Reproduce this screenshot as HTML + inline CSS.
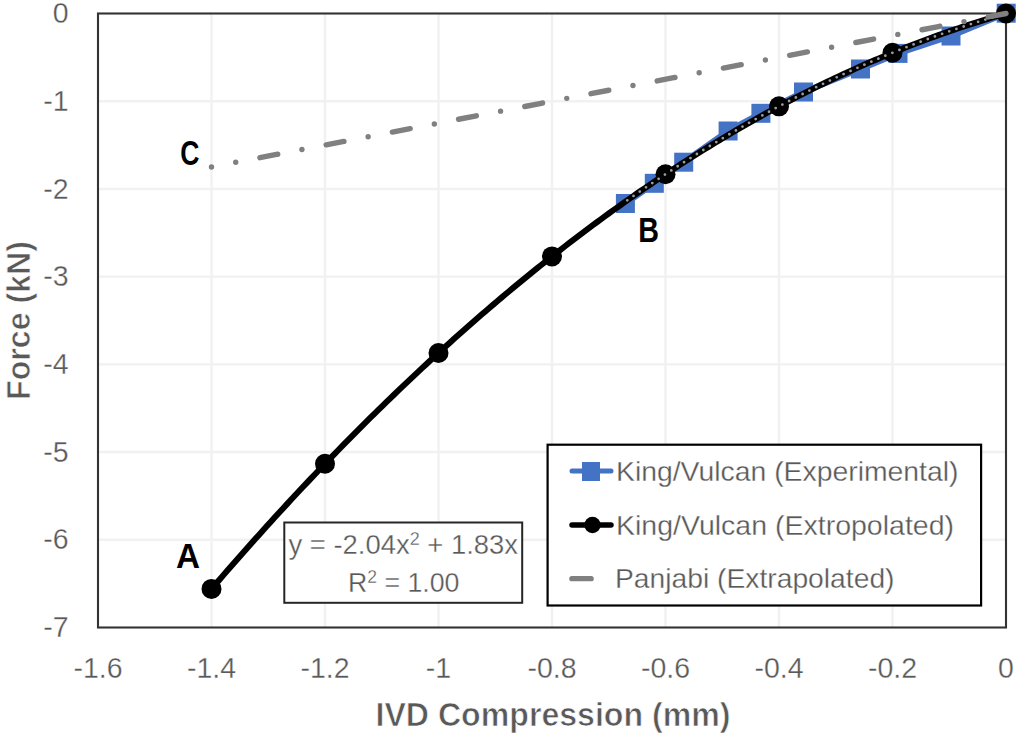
<!DOCTYPE html><html><head><meta charset="utf-8"><style>html,body{margin:0;padding:0;background:#fff;overflow:hidden}svg{display:block}</style></head><body>
<svg width="1020" height="736" viewBox="0 0 1020 736">
<rect x="0" y="0" width="1020" height="736" fill="#fff"/>
<path d="M211.50 13.50V627.50 M325.00 13.50V627.50 M438.50 13.50V627.50 M552.00 13.50V627.50 M665.50 13.50V627.50 M779.00 13.50V627.50 M892.50 13.50V627.50 M98.00 101.21H1006.00 M98.00 188.93H1006.00 M98.00 276.64H1006.00 M98.00 364.36H1006.00 M98.00 452.07H1006.00 M98.00 539.79H1006.00" stroke="#f1f1f1" stroke-width="2.4" fill="none"/>
<rect x="98.0" y="13.5" width="908.0" height="614.0" fill="none" stroke="#333" stroke-width="2.1"/>
<g font-family='"Liberation Sans", sans-serif' font-size="30" fill="#595959" stroke="#fff" stroke-width="0.3"><text transform="translate(68.5 23.20) scale(0.95 1)" text-anchor="end">0</text><text transform="translate(68.5 110.91) scale(0.95 1)" text-anchor="end">-1</text><text transform="translate(68.5 198.63) scale(0.95 1)" text-anchor="end">-2</text><text transform="translate(68.5 286.34) scale(0.95 1)" text-anchor="end">-3</text><text transform="translate(68.5 374.06) scale(0.95 1)" text-anchor="end">-4</text><text transform="translate(68.5 461.77) scale(0.95 1)" text-anchor="end">-5</text><text transform="translate(68.5 549.49) scale(0.95 1)" text-anchor="end">-6</text><text transform="translate(68.5 637.20) scale(0.95 1)" text-anchor="end">-7</text></g>
<g font-family='"Liberation Sans", sans-serif' font-size="30" fill="#595959" stroke="#fff" stroke-width="0.3"><text transform="translate(98.00 678) scale(0.95 1)" text-anchor="middle">-1.6</text><text transform="translate(211.50 678) scale(0.95 1)" text-anchor="middle">-1.4</text><text transform="translate(325.00 678) scale(0.95 1)" text-anchor="middle">-1.2</text><text transform="translate(438.50 678) scale(0.95 1)" text-anchor="middle">-1</text><text transform="translate(552.00 678) scale(0.95 1)" text-anchor="middle">-0.8</text><text transform="translate(665.50 678) scale(0.95 1)" text-anchor="middle">-0.6</text><text transform="translate(779.00 678) scale(0.95 1)" text-anchor="middle">-0.4</text><text transform="translate(892.50 678) scale(0.95 1)" text-anchor="middle">-0.2</text><text transform="translate(1006.00 678) scale(0.95 1)" text-anchor="middle">0</text></g>
<text x="375.5" y="725.5" font-family='"Liberation Sans", sans-serif' font-weight="bold" font-size="34" fill="#595959" stroke="#fff" stroke-width="0.7" textLength="355" lengthAdjust="spacingAndGlyphs">IVD Compression (mm)</text>
<text transform="translate(30.2 400) rotate(-90)" x="0" y="0" font-family='"Liberation Sans", sans-serif' font-weight="bold" font-size="34" fill="#595959" stroke="#fff" stroke-width="0.7" textLength="159" lengthAdjust="spacingAndGlyphs">Force (kN)</text>
<path d="M625.4 203.5 L654.3 183.3 L683.7 162.2 L728.1 131.0 L760.9 113.3 L803.5 92.0 L860.5 69.0 L898.0 53.4 L951.0 36.0 L1006.2 13.2" stroke="#4472c4" stroke-width="6" fill="none" stroke-linejoin="round"/>
<rect x="615.90" y="194.00" width="19" height="19" fill="#4472c4"/>
<rect x="644.80" y="173.80" width="19" height="19" fill="#4472c4"/>
<rect x="674.20" y="152.70" width="19" height="19" fill="#4472c4"/>
<rect x="718.60" y="121.50" width="19" height="19" fill="#4472c4"/>
<rect x="751.40" y="103.80" width="19" height="19" fill="#4472c4"/>
<rect x="794.00" y="82.50" width="19" height="19" fill="#4472c4"/>
<rect x="851.00" y="59.50" width="19" height="19" fill="#4472c4"/>
<rect x="888.50" y="43.90" width="19" height="19" fill="#4472c4"/>
<rect x="941.50" y="26.50" width="19" height="19" fill="#4472c4"/>
<rect x="996.70" y="3.70" width="19" height="19" fill="#4472c4"/>
<path d="M211.50 588.94 L215.47 584.32 L219.45 579.71 L223.42 575.13 L227.39 570.56 L231.36 566.01 L235.34 561.47 L239.31 556.95 L243.28 552.46 L247.25 547.97 L251.23 543.51 L255.20 539.06 L259.17 534.63 L263.14 530.22 L267.12 525.83 L271.09 521.45 L275.06 517.09 L279.03 512.75 L283.01 508.43 L286.98 504.12 L290.95 499.83 L294.92 495.56 L298.90 491.31 L302.87 487.07 L306.84 482.85 L310.81 478.65 L314.79 474.47 L318.76 470.30 L322.73 466.15 L326.70 462.02 L330.68 457.91 L334.65 453.81 L338.62 449.73 L342.59 445.67 L346.57 441.63 L350.54 437.60 L354.51 433.60 L358.48 429.60 L362.46 425.63 L366.43 421.68 L370.40 417.74 L374.37 413.82 L378.35 409.91 L382.32 406.03 L386.29 402.16 L390.26 398.31 L394.24 394.48 L398.21 390.66 L402.18 386.86 L406.15 383.08 L410.13 379.32 L414.10 375.58 L418.07 371.85 L422.04 368.14 L426.01 364.45 L429.99 360.77 L433.96 357.11 L437.93 353.47 L441.91 349.85 L445.88 346.25 L449.85 342.66 L453.82 339.09 L457.80 335.54 L461.77 332.00 L465.74 328.48 L469.71 324.98 L473.69 321.50 L477.66 318.04 L481.63 314.59 L485.60 311.16 L489.58 307.75 L493.55 304.35 L497.52 300.98 L501.49 297.62 L505.47 294.28 L509.44 290.95 L513.41 287.64 L517.38 284.36 L521.36 281.08 L525.33 277.83 L529.30 274.59 L533.27 271.37 L537.25 268.17 L541.22 264.99 L545.19 261.82 L549.16 258.67 L553.14 255.54 L557.11 252.43 L561.08 249.33 L565.05 246.25 L569.03 243.19 L573.00 240.15 L576.97 237.12 L580.94 234.11 L584.91 231.12 L588.89 228.15 L592.86 225.19 L596.83 222.25 L600.81 219.33 L604.78 216.43 L608.75 213.54 L612.72 210.67 L616.70 207.82 L620.67 204.99 L624.64 202.17 L628.61 199.37 L632.59 196.59 L636.56 193.83 L640.53 191.08 L644.50 188.36 L648.48 185.65 L652.45 182.95 L656.42 180.28 L660.39 177.62 L664.37 174.98 L668.34 172.36 L672.31 169.75 L676.28 167.16 L680.26 164.59 L684.23 162.04 L688.20 159.50 L692.17 156.99 L696.14 154.49 L700.12 152.00 L704.09 149.54 L708.06 147.09 L712.03 144.66 L716.01 142.25 L719.98 139.85 L723.95 137.48 L727.93 135.12 L731.90 132.77 L735.87 130.45 L739.84 128.14 L743.82 125.85 L747.79 123.58 L751.76 121.33 L755.73 119.09 L759.71 116.87 L763.68 114.67 L767.65 112.48 L771.62 110.31 L775.60 108.17 L779.57 106.03 L783.54 103.92 L787.51 101.82 L791.48 99.74 L795.46 97.68 L799.43 95.64 L803.40 93.61 L807.38 91.60 L811.35 89.61 L815.32 87.64 L819.29 85.68 L823.27 83.74 L827.24 81.82 L831.21 79.91 L835.18 78.03 L839.15 76.16 L843.13 74.31 L847.10 72.47 L851.07 70.66 L855.04 68.86 L859.02 67.08 L862.99 65.31 L866.96 63.57 L870.94 61.84 L874.91 60.13 L878.88 58.43 L882.85 56.76 L886.83 55.10 L890.80 53.46 L894.77 51.84 L898.74 50.23 L902.72 48.64 L906.69 47.07 L910.66 45.52 L914.63 43.98 L918.61 42.46 L922.58 40.96 L926.55 39.48 L930.52 38.01 L934.50 36.57 L938.47 35.14 L942.44 33.72 L946.41 32.33 L950.38 30.95 L954.36 29.59 L958.33 28.25 L962.30 26.92 L966.28 25.61 L970.25 24.32 L974.22 23.05 L978.19 21.79 L982.16 20.56 L986.14 19.34 L990.11 18.13 L994.08 16.95 L998.05 15.78 L1002.03 14.63 L1006.00 13.50" stroke="#000" stroke-width="6" fill="none" stroke-linejoin="round" stroke-linecap="round"/>
<circle cx="211.50" cy="588.94" r="10" fill="#000"/>
<circle cx="325.00" cy="463.79" r="10" fill="#000"/>
<circle cx="438.50" cy="352.95" r="10" fill="#000"/>
<circle cx="552.00" cy="256.43" r="10" fill="#000"/>
<circle cx="665.50" cy="174.23" r="10" fill="#000"/>
<circle cx="779.00" cy="106.34" r="10" fill="#000"/>
<circle cx="892.50" cy="52.76" r="10" fill="#000"/>
<circle cx="1006.00" cy="13.50" r="10" fill="#000"/>
<path d="M625.38 201.65 L627.28 200.31 L629.18 198.97 L631.09 197.64 L632.99 196.31 L634.89 194.99 L636.80 193.66 L638.70 192.35 L640.60 191.03 L642.51 189.73 L644.41 188.42 L646.31 187.12 L648.22 185.82 L650.12 184.53 L652.02 183.24 L653.92 181.96 L655.83 180.68 L657.73 179.40 L659.63 178.13 L661.54 176.86 L663.44 175.59 L665.34 174.33 L667.25 173.07 L669.15 171.82 L671.05 170.57 L672.96 169.33 L674.86 168.09 L676.76 166.85 L678.66 165.62 L680.57 164.39 L682.47 163.17 L684.37 161.95 L686.28 160.73 L688.18 159.52 L690.08 158.31 L691.99 157.10 L693.89 155.90 L695.79 154.71 L697.70 153.52 L699.60 152.33 L701.50 151.14 L703.41 149.96 L705.31 148.79 L707.21 147.61 L709.11 146.45 L711.02 145.28 L712.92 144.12 L714.82 142.97 L716.73 141.81 L718.63 140.67 L720.53 139.52 L722.44 138.38 L724.34 137.25 L726.24 136.11 L728.15 134.99 L730.05 133.86 L731.95 132.74 L733.86 131.63 L735.76 130.51 L737.66 129.41 L739.56 128.30 L741.47 127.20 L743.37 126.11 L745.27 125.02 L747.18 123.93 L749.08 122.84 L750.98 121.76 L752.89 120.69 L754.79 119.62 L756.69 118.55 L758.60 117.49 L760.50 116.43 L762.40 115.37 L764.30 114.32 L766.21 113.27 L768.11 112.23 L770.01 111.19 L771.92 110.15 L773.82 109.12 L775.72 108.10 L777.63 107.07 L779.53 106.05 L781.43 105.04 L783.34 104.03 L785.24 103.02 L787.14 102.02 L789.05 101.02 L790.95 100.02 L792.85 99.03 L794.75 98.04 L796.66 97.06 L798.56 96.08 L800.46 95.11 L802.37 94.14 L804.27 93.17 L806.17 92.21 L808.08 91.25 L809.98 90.29 L811.88 89.34 L813.79 88.40 L815.69 87.45 L817.59 86.51 L819.50 85.58 L821.40 84.65 L823.30 83.72 L825.20 82.80 L827.11 81.88 L829.01 80.97 L830.91 80.06 L832.82 79.15 L834.72 78.25 L836.62 77.35 L838.53 76.45 L840.43 75.56 L842.33 74.68 L844.24 73.79 L846.14 72.92 L848.04 72.04 L849.94 71.17 L851.85 70.30 L853.75 69.44 L855.65 68.58 L857.56 67.73 L859.46 66.88 L861.36 66.03 L863.27 65.19 L865.17 64.35 L867.07 63.52 L868.98 62.69 L870.88 61.86 L872.78 61.04 L874.69 60.22 L876.59 59.41 L878.49 58.60 L880.39 57.79 L882.30 56.99 L884.20 56.19 L886.10 55.40 L888.01 54.61 L889.91 53.82 L891.81 53.04 L893.72 52.26 L895.62 51.49 L897.52 50.72 L899.43 49.96 L901.33 49.19 L903.23 48.44 L905.14 47.68 L907.04 46.93 L908.94 46.19 L910.84 45.45 L912.75 44.71 L914.65 43.97 L916.55 43.25 L918.46 42.52 L920.36 41.80 L922.26 41.08 L924.17 40.37 L926.07 39.66 L927.97 38.95 L929.88 38.25 L931.78 37.55 L933.68 36.86 L935.58 36.17 L937.49 35.49 L939.39 34.81 L941.29 34.13 L943.20 33.46 L945.10 32.79 L947.00 32.12 L948.91 31.46 L950.81 30.80 L952.71 30.15 L954.62 29.50 L956.52 28.86 L958.42 28.22 L960.33 27.58 L962.23 26.95 L964.13 26.32 L966.03 25.69 L967.94 25.07 L969.84 24.45 L971.74 23.84 L973.65 23.23 L975.55 22.63 L977.45 22.03 L979.36 21.43 L981.26 20.84 L983.16 20.25 L985.07 19.66 L986.97 19.08 L988.87 18.51 L990.78 17.94 L992.68 17.37 L994.58 16.80 L996.48 16.24 L998.39 15.69 L1000.29 15.13 L1002.19 14.58 L1004.10 14.04 L1006.00 13.50" stroke="#9c9c9c" stroke-width="2.8" fill="none" stroke-linecap="round" stroke-dasharray="0 7.6" stroke-dashoffset="5.27"/>
<path d="M211.50 167.00 L1006.00 13.50" stroke="#808080" stroke-width="5.4" fill="none" stroke-linecap="round" stroke-dasharray="0 24.666 0 24.666 18.101 0"/>
<g font-family='"Liberation Sans", sans-serif' font-weight="bold" font-size="35" fill="#000"><text transform="translate(176 567.6) scale(0.95 1)">A</text><text transform="translate(638.3 241.9) scale(0.82 1)">B</text><text transform="translate(180.3 165) scale(0.76 1)">C</text></g>
<rect x="284.3" y="522.5" width="237.9" height="80.3" fill="#fff" stroke="#262626" stroke-width="2"/>
<text x="288.5" y="554.2" font-family='"Liberation Sans", sans-serif' font-size="27.5" fill="#595959" stroke="#fff" stroke-width="0.3" textLength="229.5" lengthAdjust="spacingAndGlyphs">y = -2.04x<tspan font-size="18" dy="-9.5">2</tspan><tspan dy="9.5"> + 1.83x</tspan></text>
<text x="348" y="592.2" font-family='"Liberation Sans", sans-serif' font-size="27.5" fill="#595959" stroke="#fff" stroke-width="0.3" textLength="111.5" lengthAdjust="spacingAndGlyphs">R<tspan font-size="18" dy="-9.5">2</tspan><tspan dy="9.5"> = 1.00</tspan></text>
<rect x="547.6" y="444.7" width="433.5" height="160.8" fill="#fff" stroke="#000" stroke-width="2.2"/>
<path d="M572 471 H611" stroke="#4472c4" stroke-width="5" stroke-linecap="round"/>
<rect x="582" y="462" width="18" height="19" fill="#4472c4"/>
<path d="M572 525 H611" stroke="#000" stroke-width="5.5" stroke-linecap="round"/>
<circle cx="592.5" cy="525" r="8.2" fill="#000"/>
<path d="M571.8 578.7 H591.2" stroke="#808080" stroke-width="5.2" stroke-linecap="round"/>
<g font-family='"Liberation Sans", sans-serif' font-size="28.5" fill="#595959" stroke="#fff" stroke-width="0.3"><text x="616" y="481" textLength="342.5" lengthAdjust="spacingAndGlyphs">King/Vulcan (Experimental)</text><text x="616" y="534.5" textLength="338" lengthAdjust="spacingAndGlyphs">King/Vulcan (Extropolated)</text><text x="615" y="588.3" textLength="279.5" lengthAdjust="spacingAndGlyphs">Panjabi (Extrapolated)</text></g>
</svg></body></html>
